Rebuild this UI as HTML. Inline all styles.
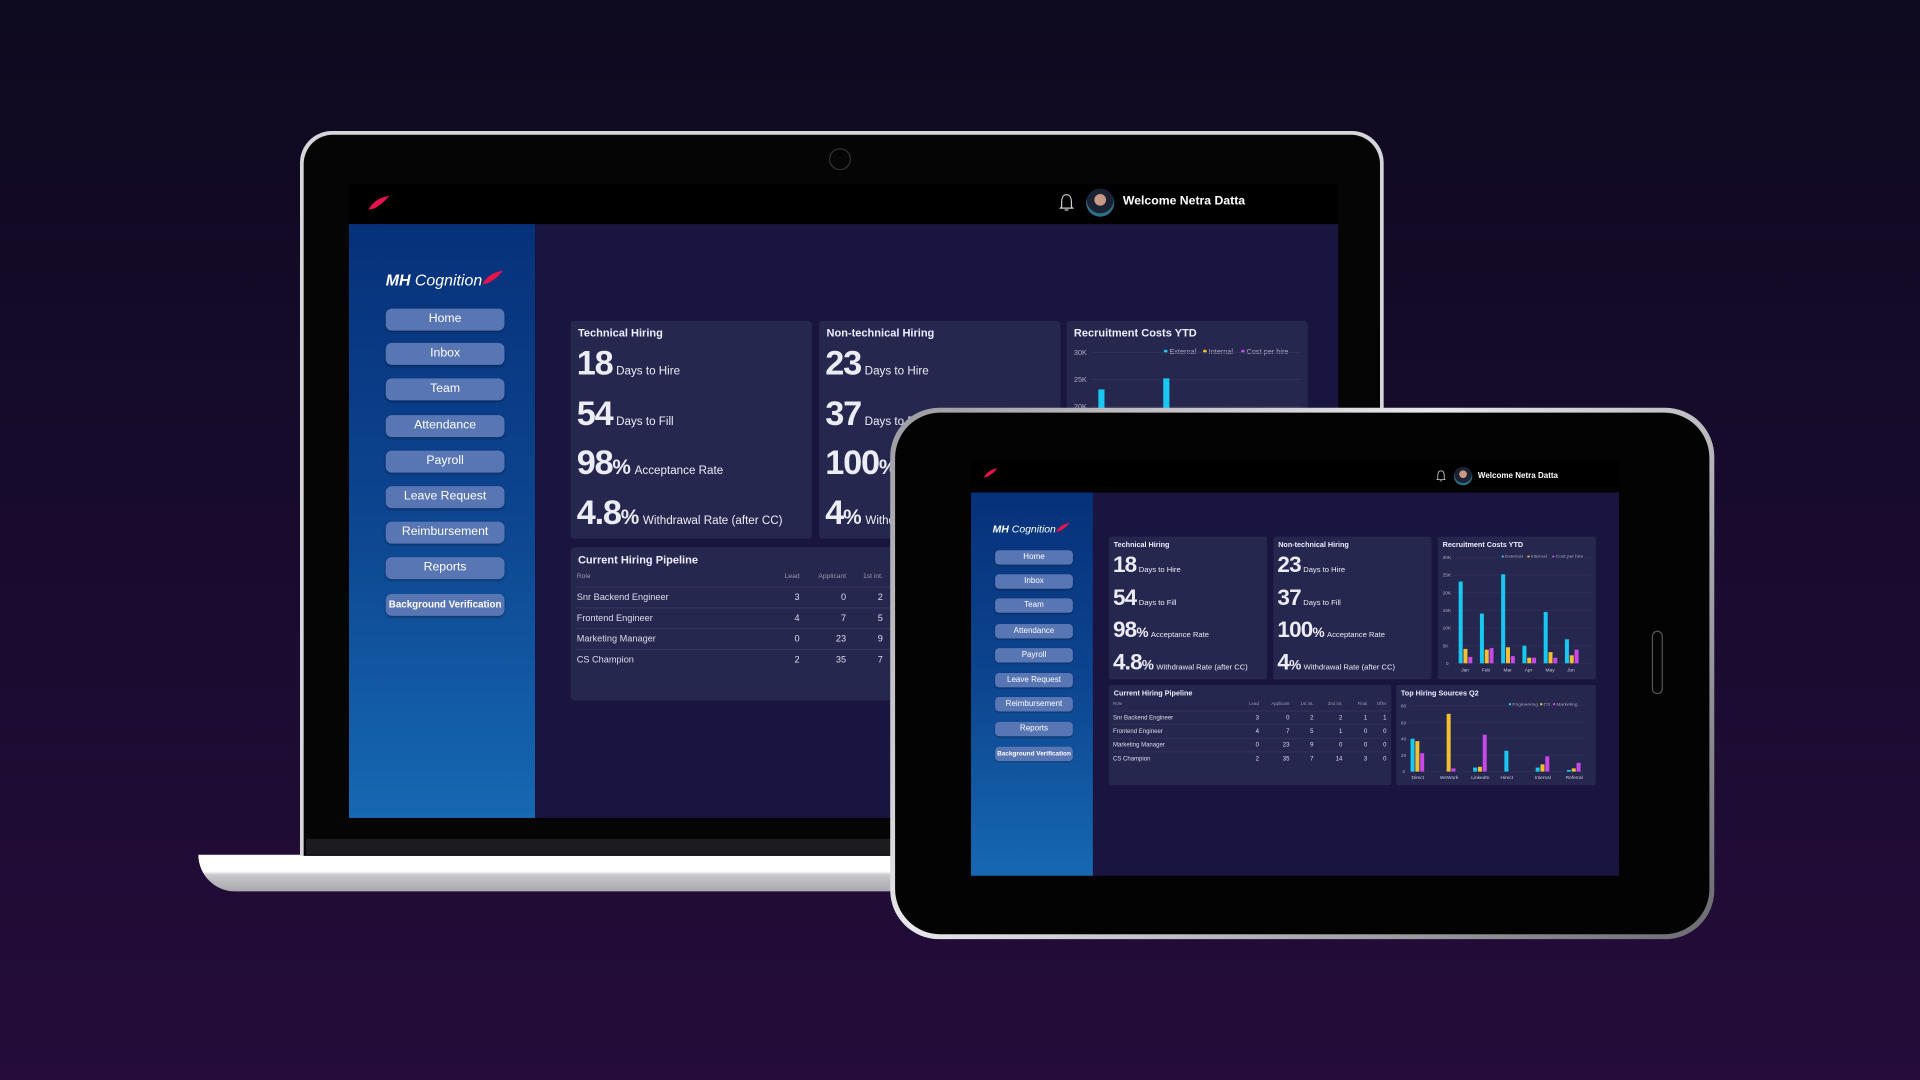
<!DOCTYPE html>
<html><head><meta charset="utf-8"><style>
*{margin:0;padding:0;box-sizing:border-box}
html,body{width:1920px;height:1080px;overflow:hidden;background:#150a26}
#w{position:absolute;left:0;top:0;width:1568px;height:882px;transform:scale(1.22449);transform-origin:0 0;
background:linear-gradient(180deg,#0e0a1f 0%,#170b2d 45%,#250c3a 100%);font-family:"Liberation Sans",sans-serif;color:#fff;overflow:hidden}
.a{position:absolute}
.dash{position:absolute;width:808px;height:518px;transform-origin:0 0;overflow:hidden}
.top{left:0;top:0;width:808px;height:33px;background:#000}
.side{left:0;top:33px;width:152px;height:485px;background:linear-gradient(180deg,#06317a 0%,#0d4590 50%,#1668b2 100%)}
.main{left:152px;top:33px;width:656px;height:485px;background:#191440}
.btn{position:absolute;left:30px;width:97px;height:18px;border-radius:5px;background:#5876b4;font-size:10px;line-height:18px;text-align:center;color:#fff;box-shadow:0 1px 2px rgba(0,0,0,.3)}
.card{position:absolute;background:#26274f;border-radius:3px}
.ct{position:absolute;left:6px;top:5px;font-size:9px;font-weight:bold;color:#eef}
.row{position:absolute;left:5px;white-space:nowrap;color:#ececf4}
.n{font-size:28px;font-weight:bold;letter-spacing:-1px}
.p{font-size:17px;font-weight:bold}
.l{font-size:9.5px;margin-left:3px}
.tb{position:absolute;left:5px;width:342px;font-size:7.5px;color:#dde}
.tb div{position:absolute}
.hd{color:#99a;font-size:5.5px}
.sep{position:absolute;left:5px;width:345px;height:1px;background:#33345e}
</style></head><body><div id="w">

<!-- laptop -->
<div class="a" style="left:162px;top:698px;width:968px;height:30px;border-radius:0 0 6px 40px;background:linear-gradient(180deg,#fff 0%,#fff 45%,#c8c8cc 55%,#a8a8ac 100%)"></div>
<div class="a" style="left:245px;top:107px;width:885px;height:592px;border-radius:26px 26px 0 0;background:#d6d6da;padding:3px"></div>
<div class="a" style="left:248px;top:110px;width:879px;height:589px;border-radius:24px 24px 0 0;background:#050505"></div>
<div class="a" style="left:250px;top:685px;width:875px;height:13px;background:#1c1c1e"></div>
<div class="a" style="left:677px;top:121px;width:18px;height:18px;border-radius:50%;border:1.5px solid #333"></div>

<div class="dash" style="left:285px;top:150px">
 <div class="a top">
  <svg class="a" style="left:16px;top:10px" width="18" height="12" viewBox="0 0 18 12"><path d="M0 11 C4 4 10 1 17 0 C14 3 12 6 8 8 C6 10 3 11 0 11Z" fill="#e8134a"/></svg>
  <svg class="a" style="left:580px;top:8px" width="12" height="16" viewBox="0 0 12 16"><path d="M6 1 C3 1 2 4 2 7 L2 11 L1 12 L11 12 L10 11 L10 7 C10 4 9 1 6 1Z M4.5 13.5 L7.5 13.5" fill="none" stroke="#ccc" stroke-width="1"/></svg>
  <div class="a" style="left:602px;top:4px;width:23px;height:23px;border-radius:50%;background:radial-gradient(circle at 50% 40%,#c89a86 0 25%,#1b2233 28% 60%,#2b6f8a 62%)"></div>
  <div class="a" style="left:632px;top:9px;font-size:10px;font-weight:bold">Welcome Netra Datta</div>
 </div>
 <div class="a side">
  <div class="a" style="left:30px;top:38px;font-size:13px;font-weight:bold;font-style:italic;white-space:nowrap">MH <span style="font-weight:normal;font-style:italic">Cognition</span></div>
  <svg class="a" style="left:109px;top:38px" width="18" height="12" viewBox="0 0 18 12"><path d="M0 11 C4 4 10 1 17 0 C14 3 12 6 8 8 C6 10 3 11 0 11Z" fill="#e8134a"/></svg>
  <div class="btn" style="top:69px">Home</div><div class="btn" style="top:97px">Inbox</div><div class="btn" style="top:126px">Team</div><div class="btn" style="top:156px">Attendance</div><div class="btn" style="top:185px">Payroll</div><div class="btn" style="top:214px">Leave Request</div><div class="btn" style="top:243px">Reimbursement</div><div class="btn" style="top:272px">Reports</div><div class="btn" style="top:302px;font-size:8px;font-weight:bold">Background Verification</div>
 </div>
 <div class="a main">
  <div class="a" style="left:29px;top:79px;width:610px;height:320px">
   <div class="card" style="left:0;top:0;width:197px;height:178px"><div class="ct">Technical Hiring</div>
    <div class="row" style="top:19px"><span class="n">18</span><span class="l">Days to Hire</span></div>
    <div class="row" style="top:60px"><span class="n">54</span><span class="l">Days to Fill</span></div>
    <div class="row" style="top:100px"><span class="n">98</span><span class="p">%</span><span class="l">Acceptance Rate</span></div>
    <div class="row" style="top:141px"><span class="n">4.8</span><span class="p">%</span><span class="l">Withdrawal Rate (after CC)</span></div></div>
   <div class="card" style="left:203px;top:0;width:197px;height:178px"><div class="ct">Non-technical Hiring</div>
    <div class="row" style="top:19px"><span class="n">23</span><span class="l">Days to Hire</span></div>
    <div class="row" style="top:60px"><span class="n">37</span><span class="l">Days to Fill</span></div>
    <div class="row" style="top:100px"><span class="n">100</span><span class="p">%</span><span class="l">Acceptance Rate</span></div>
    <div class="row" style="top:141px"><span class="n">4</span><span class="p">%</span><span class="l">Withdrawal Rate (after CC)</span></div></div>
   <div class="card" style="left:405px;top:0;width:197px;height:178px"><div class="ct">Recruitment Costs YTD</div>
    <svg class="a" style="left:0;top:0" width="197" height="178">
     <g font-size="6" fill="#aab" font-family="Liberation Sans"><text x="6" y="28">30K</text><text x="6" y="50">25K</text><text x="6" y="72">20K</text><text x="6" y="94">15K</text><text x="6" y="116">10K</text><text x="6" y="138">5K</text><text x="10" y="160">0</text>
     <circle cx="81" cy="25" r="1.5" fill="#18c8f0"/><text x="84" y="27">External</text><circle cx="113" cy="25" r="1.5" fill="#f0c030"/><text x="116" y="27">Internal</text><circle cx="144" cy="25" r="1.5" fill="#c848e8"/><text x="147" y="27">Cost per hire</text></g>
     <g stroke="#34355f" stroke-width=".6"><line x1="20" y1="26" x2="192" y2="26"/><line x1="20" y1="48" x2="192" y2="48"/><line x1="20" y1="70" x2="192" y2="70"/><line x1="20" y1="92" x2="192" y2="92"/><line x1="20" y1="114" x2="192" y2="114"/><line x1="20" y1="136" x2="192" y2="136"/><line x1="20" y1="158" x2="192" y2="158"/></g>
     <g fill="#18c8f0"><rect x="26" y="56" width="5" height="102"/><rect x="52.5" y="96" width="5" height="62"/><rect x="79" y="47" width="5" height="111"/><rect x="105.5" y="136" width="5" height="22"/><rect x="132" y="94" width="5" height="64"/><rect x="158.5" y="128" width="5" height="30"/></g>
     <g fill="#f0c030"><rect x="32" y="140" width="5" height="18"/><rect x="58.5" y="141" width="5" height="17"/><rect x="85" y="138" width="5" height="20"/><rect x="111.5" y="151" width="5" height="7"/><rect x="138" y="144" width="5" height="14"/><rect x="164.5" y="148" width="5" height="10"/></g>
     <g fill="#c848e8"><rect x="38" y="150" width="5" height="8"/><rect x="64.5" y="139" width="5" height="19"/><rect x="91" y="149" width="5" height="9"/><rect x="117.5" y="151" width="5" height="7"/><rect x="144" y="151" width="5" height="7"/><rect x="170.5" y="141" width="5" height="17"/></g>
     <g font-size="6" fill="#ccd" text-anchor="middle" font-family="Liberation Sans"><text x="34" y="168">Jan</text><text x="60" y="168">Feb</text><text x="87" y="168">Mar</text><text x="113" y="168">Apr</text><text x="140" y="168">May</text><text x="166" y="168">Jun</text></g>
    </svg></div>
   <div class="card" style="left:0;top:185px;width:352px;height:125px"><div class="ct">Current Hiring Pipeline</div>
    <div class="tb" style="top:21px;height:10px"><div class="hd" style="left:0">Role</div><div class="hd" style="right:160px">Lead</div><div class="hd" style="right:122px">Applicant</div><div class="hd" style="right:92px">1st int.</div><div class="hd" style="right:56px">2nd int.</div><div class="hd" style="right:25px">Final</div><div class="hd" style="right:1px">Offer</div></div>
    <div class="sep" style="top:32px"></div><div class="sep" style="top:49px"></div><div class="sep" style="top:66px"></div><div class="sep" style="top:83px"></div>
    <div class="tb" style="top:36px"><div style="left:0">Snr Backend Engineer</div><div style="right:160px">3</div><div style="right:122px">0</div><div style="right:92px">2</div><div style="right:56px">2</div><div style="right:25px">1</div><div style="right:1px">1</div></div>
    <div class="tb" style="top:53px"><div style="left:0">Frontend Engineer</div><div style="right:160px">4</div><div style="right:122px">7</div><div style="right:92px">5</div><div style="right:56px">1</div><div style="right:25px">0</div><div style="right:1px">0</div></div>
    <div class="tb" style="top:70px"><div style="left:0">Marketing Manager</div><div style="right:160px">0</div><div style="right:122px">23</div><div style="right:92px">9</div><div style="right:56px">0</div><div style="right:25px">0</div><div style="right:1px">0</div></div>
    <div class="tb" style="top:87px"><div style="left:0">CS Champion</div><div style="right:160px">2</div><div style="right:122px">35</div><div style="right:92px">7</div><div style="right:56px">14</div><div style="right:25px">3</div><div style="right:1px">0</div></div>
   </div>
  </div>
 </div>
</div>

<!-- tablet -->
<div class="a" style="left:727px;top:333px;width:673px;height:434px;border-radius:40px;background:linear-gradient(135deg,#9a9aa0,#e8e8ec 40%,#6a6a70);"></div>
<div class="a" style="left:731px;top:337px;width:665px;height:426px;border-radius:37px;background:#030303"></div>
<div class="a" style="left:1349px;top:515px;width:9px;height:52px;border-radius:5px;border:1.5px solid #555"></div>

<div class="dash" style="left:793px;top:376px;transform:scale(0.655)">
 <div class="a top">
  <svg class="a" style="left:16px;top:10px" width="18" height="12" viewBox="0 0 18 12"><path d="M0 11 C4 4 10 1 17 0 C14 3 12 6 8 8 C6 10 3 11 0 11Z" fill="#e8134a"/></svg>
  <svg class="a" style="left:580px;top:12px" width="12" height="16" viewBox="0 0 12 16"><path d="M6 1 C3 1 2 4 2 7 L2 11 L1 12 L11 12 L10 11 L10 7 C10 4 9 1 6 1Z M4.5 13.5 L7.5 13.5" fill="none" stroke="#ccc" stroke-width="1"/></svg>
  <div class="a" style="left:602px;top:8px;width:23px;height:23px;border-radius:50%;background:radial-gradient(circle at 50% 40%,#c89a86 0 25%,#1b2233 28% 60%,#2b6f8a 62%)"></div>
  <div class="a" style="left:632px;top:14px;font-size:10px;font-weight:bold">Welcome Netra Datta</div>
 </div>
 <div class="a side" style="top:40px;height:478px">
  <div class="a" style="left:27px;top:38px;font-size:13px;font-weight:bold;font-style:italic;white-space:nowrap">MH <span style="font-weight:normal">Cognition</span></div>
  <svg class="a" style="left:106px;top:38px" width="18" height="12" viewBox="0 0 18 12"><path d="M0 11 C4 4 10 1 17 0 C14 3 12 6 8 8 C6 10 3 11 0 11Z" fill="#e8134a"/></svg>
  <div class="btn" style="top:72px">Home</div><div class="btn" style="top:102px">Inbox</div><div class="btn" style="top:132px">Team</div><div class="btn" style="top:164px">Attendance</div><div class="btn" style="top:194px">Payroll</div><div class="btn" style="top:225px">Leave Request</div><div class="btn" style="top:255px">Reimbursement</div><div class="btn" style="top:286px">Reports</div><div class="btn" style="top:317px;font-size:8px;font-weight:bold">Background Verification</div>
 </div>
 <div class="a main" style="top:40px;height:478px">
  <div class="a" style="left:20px;top:55px;width:610px;height:320px">
   <div class="card" style="left:0;top:0;width:197px;height:178px"><div class="ct">Technical Hiring</div>
    <div class="row" style="top:19px"><span class="n">18</span><span class="l">Days to Hire</span></div>
    <div class="row" style="top:60px"><span class="n">54</span><span class="l">Days to Fill</span></div>
    <div class="row" style="top:100px"><span class="n">98</span><span class="p">%</span><span class="l">Acceptance Rate</span></div>
    <div class="row" style="top:141px"><span class="n">4.8</span><span class="p">%</span><span class="l">Withdrawal Rate (after CC)</span></div></div>
   <div class="card" style="left:205px;top:0;width:197px;height:178px"><div class="ct">Non-technical Hiring</div>
    <div class="row" style="top:19px"><span class="n">23</span><span class="l">Days to Hire</span></div>
    <div class="row" style="top:60px"><span class="n">37</span><span class="l">Days to Fill</span></div>
    <div class="row" style="top:100px"><span class="n">100</span><span class="p">%</span><span class="l">Acceptance Rate</span></div>
    <div class="row" style="top:141px"><span class="n">4</span><span class="p">%</span><span class="l">Withdrawal Rate (after CC)</span></div></div>
   <div class="card" style="left:410px;top:0;width:197px;height:178px"><div class="ct">Recruitment Costs YTD</div>
    <svg class="a" style="left:0;top:0" width="197" height="178">
     <g font-size="6" fill="#aab" font-family="Liberation Sans"><text x="6" y="28">30K</text><text x="6" y="50">25K</text><text x="6" y="72">20K</text><text x="6" y="94">15K</text><text x="6" y="116">10K</text><text x="6" y="138">5K</text><text x="10" y="160">0</text>
     <circle cx="81" cy="25" r="1.5" fill="#18c8f0"/><text x="84" y="27">External</text><circle cx="113" cy="25" r="1.5" fill="#f0c030"/><text x="116" y="27">Internal</text><circle cx="144" cy="25" r="1.5" fill="#c848e8"/><text x="147" y="27">Cost per hire</text></g>
     <g stroke="#34355f" stroke-width=".6"><line x1="20" y1="26" x2="192" y2="26"/><line x1="20" y1="48" x2="192" y2="48"/><line x1="20" y1="70" x2="192" y2="70"/><line x1="20" y1="92" x2="192" y2="92"/><line x1="20" y1="114" x2="192" y2="114"/><line x1="20" y1="136" x2="192" y2="136"/><line x1="20" y1="158" x2="192" y2="158"/></g>
     <g fill="#18c8f0"><rect x="26" y="56" width="5" height="102"/><rect x="52.5" y="96" width="5" height="62"/><rect x="79" y="47" width="5" height="111"/><rect x="105.5" y="136" width="5" height="22"/><rect x="132" y="94" width="5" height="64"/><rect x="158.5" y="128" width="5" height="30"/></g>
     <g fill="#f0c030"><rect x="32" y="140" width="5" height="18"/><rect x="58.5" y="141" width="5" height="17"/><rect x="85" y="138" width="5" height="20"/><rect x="111.5" y="151" width="5" height="7"/><rect x="138" y="144" width="5" height="14"/><rect x="164.5" y="148" width="5" height="10"/></g>
     <g fill="#c848e8"><rect x="38" y="150" width="5" height="8"/><rect x="64.5" y="139" width="5" height="19"/><rect x="91" y="149" width="5" height="9"/><rect x="117.5" y="151" width="5" height="7"/><rect x="144" y="151" width="5" height="7"/><rect x="170.5" y="141" width="5" height="17"/></g>
     <g font-size="6" fill="#ccd" text-anchor="middle" font-family="Liberation Sans"><text x="34" y="168">Jan</text><text x="60" y="168">Feb</text><text x="87" y="168">Mar</text><text x="113" y="168">Apr</text><text x="140" y="168">May</text><text x="166" y="168">Jun</text></g>
    </svg></div>
   <div class="card" style="left:0;top:185px;width:352px;height:125px"><div class="ct">Current Hiring Pipeline</div>
    <div class="tb" style="top:21px;height:10px"><div class="hd" style="left:0">Role</div><div class="hd" style="right:160px">Lead</div><div class="hd" style="right:122px">Applicant</div><div class="hd" style="right:92px">1st int.</div><div class="hd" style="right:56px">2nd int.</div><div class="hd" style="right:25px">Final</div><div class="hd" style="right:1px">Offer</div></div>
    <div class="sep" style="top:32px"></div><div class="sep" style="top:49px"></div><div class="sep" style="top:66px"></div><div class="sep" style="top:83px"></div>
    <div class="tb" style="top:36px"><div style="left:0">Snr Backend Engineer</div><div style="right:160px">3</div><div style="right:122px">0</div><div style="right:92px">2</div><div style="right:56px">2</div><div style="right:25px">1</div><div style="right:1px">1</div></div>
    <div class="tb" style="top:53px"><div style="left:0">Frontend Engineer</div><div style="right:160px">4</div><div style="right:122px">7</div><div style="right:92px">5</div><div style="right:56px">1</div><div style="right:25px">0</div><div style="right:1px">0</div></div>
    <div class="tb" style="top:70px"><div style="left:0">Marketing Manager</div><div style="right:160px">0</div><div style="right:122px">23</div><div style="right:92px">9</div><div style="right:56px">0</div><div style="right:25px">0</div><div style="right:1px">0</div></div>
    <div class="tb" style="top:87px"><div style="left:0">CS Champion</div><div style="right:160px">2</div><div style="right:122px">35</div><div style="right:92px">7</div><div style="right:56px">14</div><div style="right:25px">3</div><div style="right:1px">0</div></div>
   </div>
   <div class="card" style="left:358px;top:185px;width:249px;height:125px"><div class="ct">Top Hiring Sources Q2</div>
    <svg class="a" style="left:0;top:0" width="249" height="125">
     <g font-size="6" fill="#aab" font-family="Liberation Sans"><text x="6" y="28">80</text><text x="6" y="49">60</text><text x="6" y="69">40</text><text x="6" y="90">20</text><text x="8" y="110">0</text>
     <circle cx="142" cy="24" r="1.5" fill="#18c8f0"/><text x="145" y="26">Engineering</text><circle cx="181" cy="24" r="1.5" fill="#f0c030"/><text x="184" y="26">CS</text><circle cx="197" cy="24" r="1.5" fill="#c848e8"/><text x="200" y="26">Marketing</text></g>
     <g stroke="#34355f" stroke-width=".6"><line x1="18" y1="26" x2="238" y2="26"/><line x1="18" y1="46.5" x2="238" y2="46.5"/><line x1="18" y1="67" x2="238" y2="67"/><line x1="18" y1="87.5" x2="238" y2="87.5"/><line x1="18" y1="108" x2="238" y2="108"/></g>
     <g fill="#18c8f0"><rect x="18" y="67" width="5" height="41"/><rect x="96" y="103" width="5" height="5"/><rect x="135" y="82" width="5" height="26"/><rect x="174" y="103" width="5" height="5"/><rect x="213" y="106" width="5" height="2"/></g>
     <g fill="#f0c030"><rect x="24" y="70" width="5" height="38"/><rect x="63" y="36" width="5" height="72"/><rect x="102" y="102" width="5" height="6"/><rect x="180" y="99" width="5" height="9"/><rect x="219" y="104" width="5" height="4"/></g>
     <g fill="#c848e8"><rect x="30" y="85" width="5" height="23"/><rect x="69" y="104" width="5" height="4"/><rect x="108" y="62" width="5" height="46"/><rect x="186" y="89" width="5" height="19"/><rect x="225" y="97" width="5" height="11"/></g>
     <g font-size="6" fill="#ccd" text-anchor="middle" font-family="Liberation Sans"><text x="27" y="117">Direct</text><text x="66" y="117">WeWork</text><text x="105" y="117">LinkedIn</text><text x="138" y="117">Hirect</text><text x="183" y="117">Internal</text><text x="222" y="117">Referral</text></g>
    </svg></div>
  </div>
 </div>
</div>

</div></body></html>
